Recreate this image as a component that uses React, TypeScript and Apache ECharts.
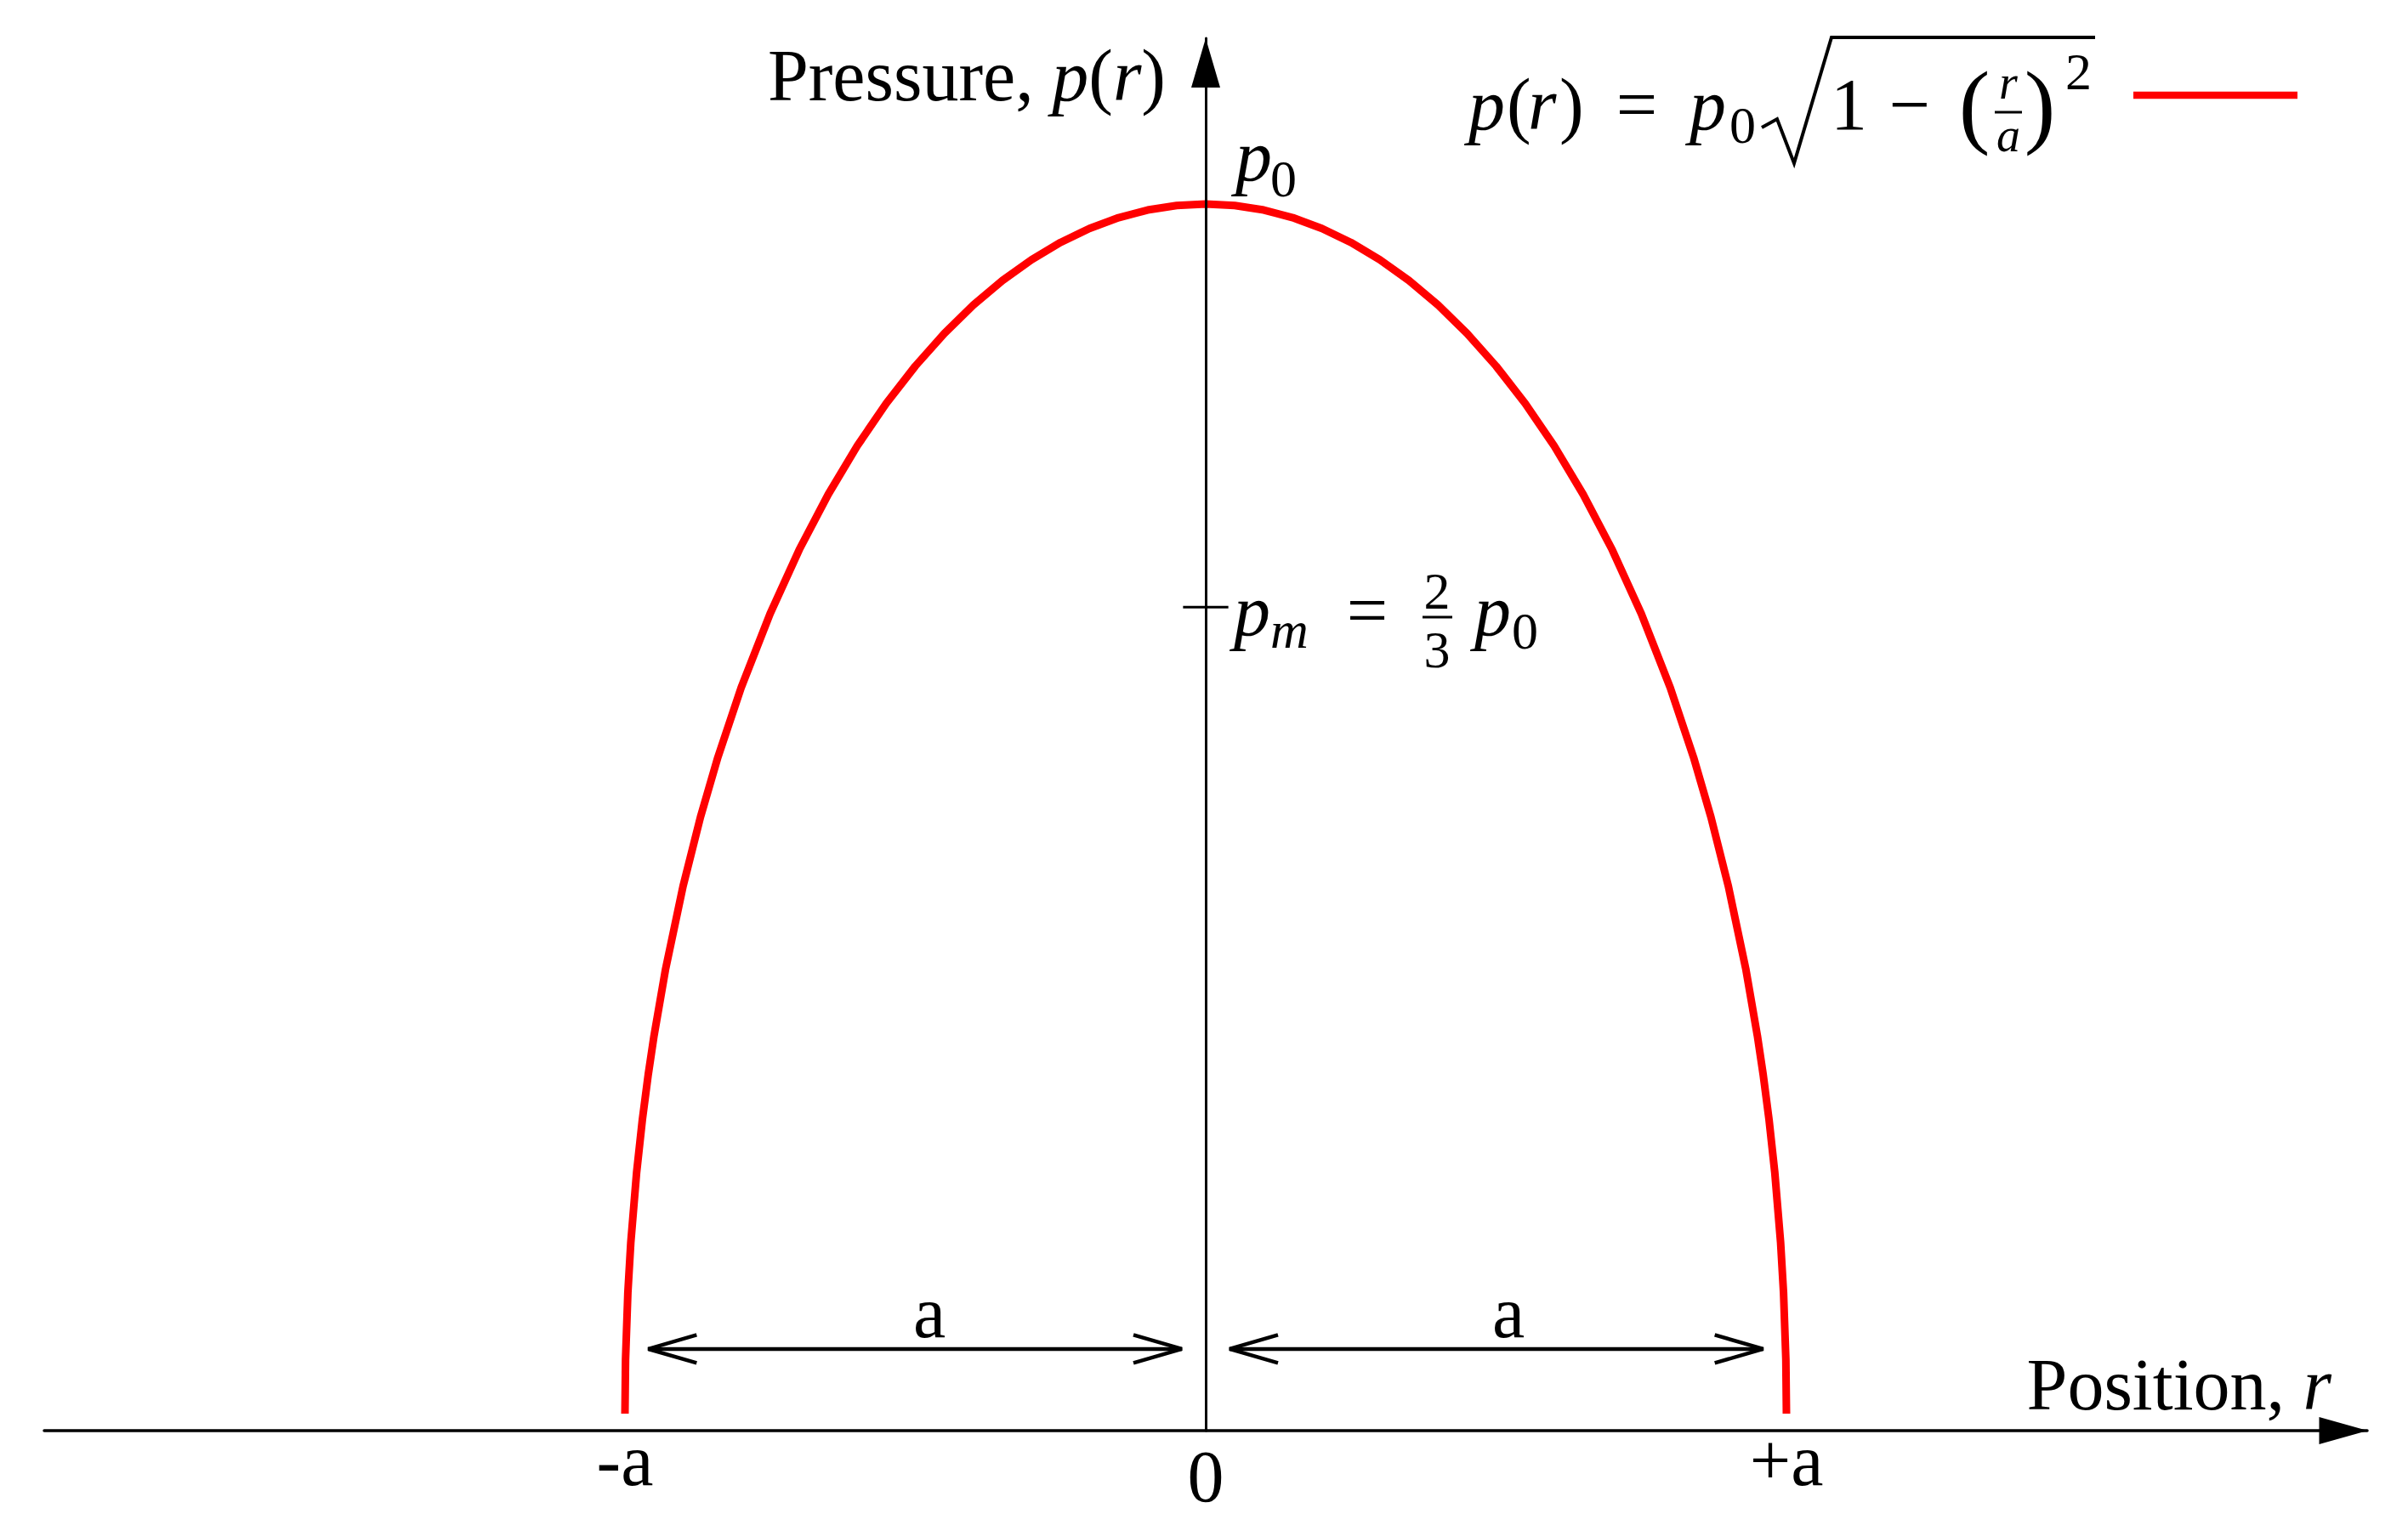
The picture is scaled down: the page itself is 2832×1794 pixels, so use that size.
import React, { useEffect, useRef } from "react";
import * as echarts from "echarts";

// ---- data ----
const rValues = [
  -1, -0.999, -0.995, -0.99, -0.98, -0.97, -0.96, -0.95, -0.93, -0.9, -0.87, -0.84, -0.8, -0.75, -0.7,
  -0.65, -0.6, -0.55, -0.5, -0.45, -0.4, -0.35, -0.3, -0.25, -0.2, -0.15, -0.1, -0.05, 0,
  0.05, 0.1, 0.15, 0.2, 0.25, 0.3, 0.35, 0.4, 0.45, 0.5, 0.55, 0.6, 0.65, 0.7, 0.75, 0.8,
  0.84, 0.87, 0.9, 0.93, 0.95, 0.96, 0.97, 0.98, 0.99, 0.995, 0.999, 1,
];
const pValues = [
  0, 0.0447, 0.0999, 0.1411, 0.199, 0.2431, 0.28, 0.3122, 0.3676, 0.4359, 0.4931, 0.5426, 0.6, 0.6614, 0.7141,
  0.7599, 0.8, 0.8352, 0.866, 0.893, 0.9165, 0.9367, 0.9539, 0.9682, 0.9798, 0.9887, 0.995, 0.9987, 1,
  0.9987, 0.995, 0.9887, 0.9798, 0.9682, 0.9539, 0.9367, 0.9165, 0.893, 0.866, 0.8352, 0.8, 0.7599, 0.7141, 0.6614, 0.6,
  0.5426, 0.4931, 0.4359, 0.3676, 0.3122, 0.28, 0.2431, 0.199, 0.1411, 0.0999, 0.0447, 0,
];
const xTickValues = [-1, 0, 1];
const xTickLabels = ["-a", "0", "+a"];
const pmValue = 2 / 3;
const pmTickSpan = [-0.039, 0.039];
const dimensionSpans = [
  [-0.96, -0.041],
  [0.041, 0.96],
];
const dimensionLevel = 0.0534;
const xRange = [-2, 2];
const yRange = [-0.0141, 1.137];

// ---- layout ----
const W = 2832;
const H = 1794;
const GRID = { left: 52, right: 48, top: 45, bottom: 111 };
const GRID_W = W - GRID.left - GRID.right;
const GRID_H = H - GRID.top - GRID.bottom;
const PX_X = GRID_W / (xRange[1] - xRange[0]);
const PX_Y = GRID_H / (yRange[1] - yRange[0]);
const HEAD_LEN = 57 / PX_X;
const HEAD_HALF = 16.5 / PX_Y;

const SERIF = '"Liberation Serif", "Times New Roman", serif';

function txt(text: string, x: number, base: number, fs: number, italic = false, align = "left") {
  return {
    type: "text",
    silent: true,
    x,
    y: base - 0.34 * fs,
    style: {
      text,
      fontSize: fs,
      fontFamily: SERIF,
      fontStyle: italic ? "italic" : "normal",
      fill: "#000",
      align,
      textAlign: align,
      verticalAlign: "middle",
      textVerticalAlign: "middle",
    },
  };
}

function hline(x1: number, x2: number, y: number, w: number, color = "#000") {
  return {
    type: "line",
    silent: true,
    shape: { x1, y1: y, x2, y2: y },
    style: { stroke: color, lineWidth: w },
  };
}

function richTxt(text: string, x: number, base: number, fs: number, align = "left") {
  return {
    type: "text",
    silent: true,
    x,
    y: base - 0.34 * fs,
    style: {
      text,
      fontSize: fs,
      fontFamily: SERIF,
      fill: "#000",
      align,
      textAlign: align,
      verticalAlign: "middle",
      textVerticalAlign: "middle",
      rich: {
        n: { fontSize: fs, fontFamily: SERIF, fill: "#000", lineHeight: fs },
        i: { fontSize: fs, fontFamily: SERIF, fontStyle: "italic", fill: "#000", lineHeight: fs },
      },
    },
  };
}

function lineSeries(data: number[][], color: string, width: number, z = 2) {
  return {
    type: "line",
    data,
    showSymbol: false,
    symbol: "none",
    silent: true,
    z,
    lineStyle: { color, width },
    animation: false,
  };
}

export default function App() {
  const ref = useRef<HTMLDivElement>(null);

  useEffect(() => {
    if (!ref.current) return;
    const chart = echarts.init(ref.current, null, { renderer: "svg" });

    const curve = rValues.map((r, i) => [r, pValues[i]]);
    const series: any[] = [lineSeries(curve, "#ff0000", 9, 2)];

    // p_m tick on the pressure axis
    series.push(lineSeries([[pmTickSpan[0], pmValue], [pmTickSpan[1], pmValue]], "#000", 3, 3));

    // dimension arrows
    dimensionSpans.forEach(([x0, x1]) => {
      const y = dimensionLevel;
      series.push(lineSeries([[x0, y], [x1, y]], "#000", 4.5, 3));
      series.push(lineSeries([[x0 + HEAD_LEN, y + HEAD_HALF], [x0, y], [x0 + HEAD_LEN, y - HEAD_HALF]], "#000", 4.5, 3));
      series.push(lineSeries([[x1 - HEAD_LEN, y + HEAD_HALF], [x1, y], [x1 - HEAD_LEN, y - HEAD_HALF]], "#000", 4.5, 3));
    });

    const graphic: any[] = [
      // axis titles
      richTxt("{n|Pressure, }{i|p}{n|(}{i|r}{n|)}", 1371, 118, 86, "right"),
      richTxt("{n|Position, }{i|r}", 2742, 1658, 86, "right"),
      // p0 label
      txt("p", 1453, 212, 86, true),
      txt("0", 1494, 231, 62),
      // pm label
      txt("p", 1451, 747, 86, true),
      txt("m", 1494, 762, 62, true),
      txt("=", 1608, 747, 86, false, "center"),
      txt("2", 1690, 716, 62, false, "center"),
      hline(1673, 1708, 726, 3),
      txt("3", 1690, 785, 62, false, "center"),
      txt("p", 1734, 747, 86, true),
      txt("0", 1778, 763, 62),
      // dimension labels
      txt("a", 1093, 1573, 86, false, "center"),
      txt("a", 1774, 1573, 86, false, "center"),
      // legend formula
      txt("p", 1727, 152, 86, true),
      txt("(", 1772, 152, 86),
      txt("r", 1797, 152, 86, true),
      txt(")", 1834, 152, 86),
      txt("=", 1925, 152, 86, false, "center"),
      txt("p", 1987, 152, 86, true),
      txt("0", 2034, 168, 62),
      {
        type: "polyline",
        silent: true,
        shape: { points: [[2072, 150], [2090, 140], [2110, 192], [2154, 44], [2464, 44]] },
        style: { stroke: "#000", lineWidth: 4, fill: null },
      },
      txt("1", 2153, 152, 86),
      txt("\u2212", 2246, 152, 86, false, "center"),
      txt("(", 2322, 160, 110, false, "center"),
      txt("r", 2362, 116, 56, true, "center"),
      hline(2346, 2378, 132, 3),
      txt("a", 2362, 178, 56, true, "center"),
      txt(")", 2399, 160, 110, false, "center"),
      txt("2", 2429, 105, 62),
      // legend sample line
      hline(2509, 2702, 112, 8.5, "#ff0000"),
    ];

    const labelFor = (v: number) => {
      const idx = xTickValues.indexOf(v);
      if (idx < 0) return "";
      return v === 0 ? "{z|" + xTickLabels[idx] + "}" : "{t|" + xTickLabels[idx] + "}";
    };

    chart.setOption({
      animation: false,
      backgroundColor: "#ffffff",
      grid: { ...GRID, containLabel: false, outerBoundsMode: "none" },
      xAxis: {
        type: "value",
        min: xRange[0],
        max: xRange[1],
        interval: 1,
        z: 4,
        axisLine: {
          show: true,
          onZero: false,
          lineStyle: { color: "#000", width: 3.5 },
          symbol: ["none", "triangle"],
          symbolSize: [32, 57],
          symbolOffset: [0, -28],
        },
        axisTick: { show: false },
        splitLine: { show: false },
        axisLabel: {
          show: true,
          margin: -8,
          showMinLabel: false,
          showMaxLabel: false,
          formatter: labelFor,
          rich: {
            t: { fontSize: 86, fontFamily: SERIF, color: "#000", lineHeight: 86 },
            z: { fontSize: 86, fontFamily: SERIF, color: "#000", lineHeight: 124 },
          },
        },
      },
      yAxis: {
        type: "value",
        min: yRange[0],
        max: yRange[1],
        z: 4,
        axisLine: {
          show: true,
          onZero: true,
          lineStyle: { color: "#000", width: 3 },
          symbol: ["none", "triangle"],
          symbolSize: [34, 58],
          symbolOffset: [0, -29],
        },
        axisTick: { show: false },
        splitLine: { show: false },
        axisLabel: { show: false },
      },
      series,
      graphic,
    });

    return () => chart.dispose();
  }, []);

  return (
    <div
      ref={ref}
      style={{ position: "fixed", left: 0, top: 0, width: W + "px", height: H + "px", background: "#fff" }}
    />
  );
}
